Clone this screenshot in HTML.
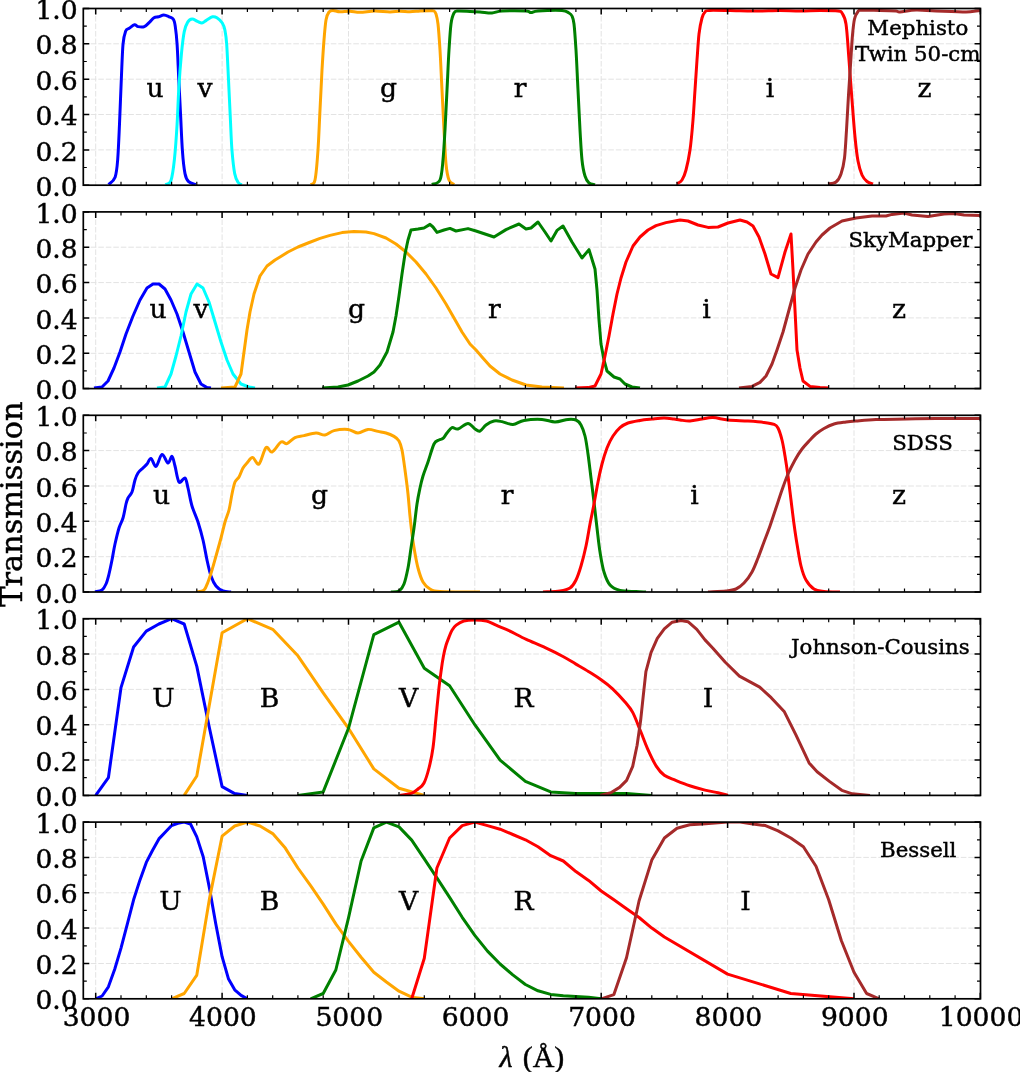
<!DOCTYPE html><html><head><meta charset="utf-8"><title>Filter transmission curves</title><style>html,body{margin:0;padding:0;background:#fff;}svg{display:block;}text{font-family:"DejaVu Serif","Liberation Serif",serif;fill:#000;stroke:#000;stroke-width:0.45px;}</style></head><body>
<svg width="1020" height="1072" viewBox="0 0 1020 1072">
<rect width="1020" height="1072" fill="#fff"/>
<g>
<path d="M95.7 8.5 V185.2 M222.1 8.5 V185.2 M348.5 8.5 V185.2 M474.8 8.5 V185.2 M601.2 8.5 V185.2 M727.6 8.5 V185.2 M854 8.5 V185.2 M83.3 149.9 H980.5 M83.3 114.5 H980.5 M83.3 79.2 H980.5 M83.3 43.8 H980.5" stroke="#e3e3e3" stroke-width="1" stroke-dasharray="5.6 1.9" fill="none"/>
<clipPath id="cp0"><rect x="83.3" y="8.5" width="897.2" height="176.7"/></clipPath>
<g clip-path="url(#cp0)">
<path d="M108.6 184.6 C109.7 183.4 113.6 181.4 115.1 177.2 C116.6 173 117 168.4 117.7 159.5 C118.4 150.6 118.9 137.3 119.5 124 C120.1 110.7 120.7 93 121.3 79.7 C121.9 66.4 122.3 52.4 123 44.3 C123.7 36.2 124.7 33.7 125.7 31 C126.7 28.3 127.7 29.3 129.2 28.3 C130.7 27.3 133 25.1 134.5 24.8 C136 24.5 136.5 26.3 138.1 26.6 C139.7 26.9 142.4 27.4 144.3 26.6 C146.2 25.9 148 23.6 149.6 22.1 C151.2 20.6 152.5 18.6 154 17.7 C155.5 16.8 156.9 17.2 158.5 16.8 C160.1 16.4 162 15.1 163.8 15.1 C165.6 15.1 167.5 16.1 169.1 16.8 C170.7 17.5 172.5 17.9 173.5 19.5 C174.5 21.1 174.7 22.5 175.3 26.6 C175.9 30.7 176.5 35.4 177.1 44.3 C177.7 53.1 178.2 67.9 178.8 79.7 C179.4 91.5 180 103.4 180.6 115.2 C181.2 127 181.7 140.9 182.4 150.6 C183.1 160.3 184 168.4 185 173.6 C186 178.8 186.8 179.8 188.6 181.6 C190.4 183.4 194.5 184.1 195.7 184.6" stroke="#0000ff" stroke-width="3.0" fill="none" stroke-linejoin="round" stroke-linecap="butt"/>
<path d="M165.6 184.6 C166.5 183.9 169.4 184.9 170.9 180.7 C172.4 176.5 173.4 168.9 174.4 159.5 C175.4 150.1 176.4 135.8 177.1 124 C177.8 112.2 178.1 100.4 178.8 88.6 C179.5 76.8 180.6 62.7 181.5 53.2 C182.4 43.8 183.2 37.1 184.2 31.9 C185.2 26.7 186.4 24.2 187.7 22.1 C189 20 190.5 19.2 192.1 19.1 C193.7 19 195.8 20.7 197.4 21.3 C199 21.9 200.4 23.1 201.9 23 C203.4 22.9 204.5 21.4 206.3 20.4 C208.1 19.4 210.7 17.2 212.5 16.8 C214.3 16.4 215.3 16.7 216.9 17.7 C218.5 18.7 221 20.9 222.3 23 C223.6 25.1 224.2 26.6 224.9 30.1 C225.6 33.6 226.1 36 226.7 44.3 C227.3 52.6 227.9 67.9 228.5 79.7 C229.1 91.5 229.6 103.4 230.2 115.2 C230.8 127 231.2 140.9 232 150.6 C232.8 160.3 233.7 168.3 234.7 173.6 C235.7 178.9 237 180.7 238.2 182.5 C239.4 184.3 241.1 184.2 241.7 184.6" stroke="#00ffff" stroke-width="3.0" fill="none" stroke-linejoin="round" stroke-linecap="butt"/>
<path d="M311 184.6 C311.7 183.8 313.8 185.8 315 180 C316.2 174.2 317.2 161.7 318 150 C318.8 138.3 319.3 123.3 320 110 C320.7 96.7 321.3 81.7 322 70 C322.7 58.3 323.3 48.3 324 40 C324.7 31.7 325.2 24.7 326 20 C326.8 15.3 327.8 13.6 329 12 C330.2 10.4 331.2 10.4 333 10.4 C334.8 10.4 337.2 11.7 340 11.8 C342.8 11.9 346.7 11.1 350 11.2 C353.3 11.3 355.8 12.2 360 12.2 C364.2 12.2 370 11 375 11 C380 11 385.8 12 390 12 C394.2 12 396.7 11.2 400 11.2 C403.3 11.2 406.7 11.8 410 11.8 C413.3 11.8 416.7 11.2 420 11 C423.3 10.8 427.7 10.8 430 10.8 C432.3 10.8 433 10.5 434 11 C435 11.5 435.3 11.8 436 14 C436.7 16.2 437.3 18 438 24 C438.7 30 439.3 39 440 50 C440.7 61 441.3 76.7 442 90 C442.7 103.3 443.3 117.7 444 130 C444.7 142.3 445.2 155.7 446 164 C446.8 172.3 447.7 176.6 449 180 C450.3 183.4 453.2 183.8 454 184.6" stroke="#ffa500" stroke-width="3.0" fill="none" stroke-linejoin="round" stroke-linecap="butt"/>
<path d="M432 184.6 C433.3 183.8 438.2 184.1 440 180 C441.8 175.9 442.2 168.3 443 160 C443.8 151.7 444.3 141.7 445 130 C445.7 118.3 446.3 103.3 447 90 C447.7 76.7 448.3 61 449 50 C449.7 39 450.2 30.2 451 24 C451.8 17.8 452.8 15.2 454 13 C455.2 10.8 455.3 11.2 458 11 C460.7 10.8 466.3 11.3 470 11.5 C473.7 11.7 476.3 11.8 480 12 C483.7 12.2 488.3 13.2 492 13 C495.7 12.8 496.3 11.3 502 11 C507.7 10.7 521.2 10.7 526 11 C530.8 11.3 529 12.6 531 12.6 C533 12.6 532.8 11.4 538 11 C543.2 10.6 556.8 10.1 562 10.4 C567.2 10.7 567.3 12.1 569 13 C570.7 13.9 571.2 14.2 572 16 C572.8 17.8 573.3 18.3 574 24 C574.7 29.7 575.3 39 576 50 C576.7 61 577.3 76.7 578 90 C578.7 103.3 579.3 118.3 580 130 C580.7 141.7 581.2 152.3 582 160 C582.8 167.7 583.8 172.2 585 176 C586.2 179.8 587.3 181.6 589 183 C590.7 184.4 594 184.3 595 184.6" stroke="#008000" stroke-width="3.0" fill="none" stroke-linejoin="round" stroke-linecap="butt"/>
<path d="M677 183.8 C677.8 183.2 680.5 182.3 682 180 C683.5 177.7 684.7 175 686 170 C687.3 165 688.8 158.3 690 150 C691.2 141.7 692.2 130 693 120 C693.8 110 694.3 100 695 90 C695.7 80 696.3 69.3 697 60 C697.7 50.7 698.2 41 699 34 C699.8 27 701 21.7 702 18 C703 14.3 703.7 13.3 705 12 C706.3 10.7 704.2 10.6 710 10.4 C715.8 10.2 731.7 10.7 740 10.8 C748.3 10.9 753.3 11.1 760 11 C766.7 10.9 773.3 10.5 780 10.5 C786.7 10.5 793.3 11 800 11 C806.7 11 813.7 10.6 820 10.6 C826.3 10.6 834.3 10.6 838 11 C841.7 11.4 840.7 10.8 842 13 C843.3 15.2 844.8 16.2 846 24 C847.2 31.8 848 47.3 849 60 C850 72.7 851 87.2 852 100 C853 112.8 854 126.8 855 137 C856 147.2 856.8 154.7 858 161 C859.2 167.3 860.5 171.6 862 175 C863.5 178.4 865.2 180 867 181.5 C868.8 183 872 183.6 873 184" stroke="#ff0000" stroke-width="3.0" fill="none" stroke-linejoin="round" stroke-linecap="butt"/>
<path d="M828 184 C829.3 183.7 833.8 183.7 836 182 C838.2 180.3 839.6 178 841 174 C842.4 170 843.6 165.3 844.5 158 C845.4 150.7 845.8 140.5 846.5 130 C847.2 119.5 847.8 105.8 848.5 95 C849.2 84.2 849.8 75 850.5 65 C851.2 55 851.8 42.7 852.5 35 C853.2 27.3 853.6 22.9 854.5 19 C855.4 15.1 856.8 13 858 11.5 C859.2 10 858.3 10.4 862 10.2 C865.7 10 874.3 10.4 880 10.5 C885.7 10.6 892.7 10.8 896 11 C899.3 11.2 896.7 12.2 900 12 C903.3 11.8 910 10.2 916 10 C922 9.8 927.7 10.7 936 11 C944.3 11.3 959.3 12 966 12 C972.7 12 973.6 11.2 976 11 C978.4 10.8 979.8 10.6 980.5 10.5" stroke="#a52a2a" stroke-width="3.0" fill="none" stroke-linejoin="round" stroke-linecap="butt"/>
</g>
<path d="M95.7 8.5 v6 M222.1 8.5 v6 M348.5 8.5 v6 M474.8 8.5 v6 M601.2 8.5 v6 M727.6 8.5 v6 M854 8.5 v6 M980.3 8.5 v6 M83.3 185.2 h6 M980.5 185.2 h-6 M83.3 149.9 h6 M980.5 149.9 h-6 M83.3 114.5 h6 M980.5 114.5 h-6 M83.3 79.2 h6 M980.5 79.2 h-6 M83.3 43.8 h6 M980.5 43.8 h-6 M83.3 8.5 h6 M980.5 8.5 h-6" stroke="#000" stroke-width="1.5" fill="none"/>
<path d="M121 8.5 v3.5 M121 185.2 v-3.5 M146.3 8.5 v3.5 M146.3 185.2 v-3.5 M171.6 8.5 v3.5 M171.6 185.2 v-3.5 M196.8 8.5 v3.5 M196.8 185.2 v-3.5 M247.4 8.5 v3.5 M247.4 185.2 v-3.5 M272.7 8.5 v3.5 M272.7 185.2 v-3.5 M297.9 8.5 v3.5 M297.9 185.2 v-3.5 M323.2 8.5 v3.5 M323.2 185.2 v-3.5 M373.8 8.5 v3.5 M373.8 185.2 v-3.5 M399 8.5 v3.5 M399 185.2 v-3.5 M424.3 8.5 v3.5 M424.3 185.2 v-3.5 M449.6 8.5 v3.5 M449.6 185.2 v-3.5 M500.1 8.5 v3.5 M500.1 185.2 v-3.5 M525.4 8.5 v3.5 M525.4 185.2 v-3.5 M550.7 8.5 v3.5 M550.7 185.2 v-3.5 M575.9 8.5 v3.5 M575.9 185.2 v-3.5 M626.5 8.5 v3.5 M626.5 185.2 v-3.5 M651.8 8.5 v3.5 M651.8 185.2 v-3.5 M677 8.5 v3.5 M677 185.2 v-3.5 M702.3 8.5 v3.5 M702.3 185.2 v-3.5 M752.9 8.5 v3.5 M752.9 185.2 v-3.5 M778.1 8.5 v3.5 M778.1 185.2 v-3.5 M803.4 8.5 v3.5 M803.4 185.2 v-3.5 M828.7 8.5 v3.5 M828.7 185.2 v-3.5 M879.2 8.5 v3.5 M879.2 185.2 v-3.5 M904.5 8.5 v3.5 M904.5 185.2 v-3.5 M929.8 8.5 v3.5 M929.8 185.2 v-3.5 M955.1 8.5 v3.5 M955.1 185.2 v-3.5 M83.3 167.5 h3.5 M980.5 167.5 h-3.5 M83.3 132.2 h3.5 M980.5 132.2 h-3.5 M83.3 96.8 h3.5 M980.5 96.8 h-3.5 M83.3 61.5 h3.5 M980.5 61.5 h-3.5 M83.3 26.2 h3.5 M980.5 26.2 h-3.5" stroke="#000" stroke-width="1.2" fill="none"/>
<rect x="83.3" y="8.5" width="897.2" height="176.7" fill="none" stroke="#000" stroke-width="1.7"/>
<text x="77.7" y="195.8" font-size="26.6" text-anchor="end">0.0</text>
<text x="77.7" y="160.5" font-size="26.6" text-anchor="end">0.2</text>
<text x="77.7" y="125.1" font-size="26.6" text-anchor="end">0.4</text>
<text x="77.7" y="89.8" font-size="26.6" text-anchor="end">0.6</text>
<text x="77.7" y="54.4" font-size="26.6" text-anchor="end">0.8</text>
<text x="77.7" y="19.1" font-size="26.6" text-anchor="end">1.0</text>
<text x="155" y="96.8" font-size="26.6" text-anchor="middle">u</text>
<text x="205" y="96.8" font-size="26.6" text-anchor="middle">v</text>
<text x="388.5" y="96.8" font-size="26.6" text-anchor="middle">g</text>
<text x="520" y="96.8" font-size="26.6" text-anchor="middle">r</text>
<text x="770" y="96.8" font-size="26.6" text-anchor="middle">i</text>
<text x="924.5" y="96.8" font-size="26.6" text-anchor="middle">z</text>
<text x="917.8" y="35" font-size="21.3" text-anchor="middle">Mephisto</text>
<text x="917.8" y="61" font-size="21.3" text-anchor="middle">Twin 50-cm</text>
</g>
<g>
<path d="M95.7 211.9 V388.6 M222.1 211.9 V388.6 M348.5 211.9 V388.6 M474.8 211.9 V388.6 M601.2 211.9 V388.6 M727.6 211.9 V388.6 M854 211.9 V388.6 M83.3 353.3 H980.5 M83.3 317.9 H980.5 M83.3 282.6 H980.5 M83.3 247.2 H980.5" stroke="#e3e3e3" stroke-width="1" stroke-dasharray="5.6 1.9" fill="none"/>
<clipPath id="cp1"><rect x="83.3" y="211.9" width="897.2" height="176.7"/></clipPath>
<g clip-path="url(#cp1)">
<path d="M94 388 L102 387 L108 381 L114 368 L120 352 L126 334 L133 316 L140 300 L147 288 L153 284 L159 284 L165 289 L171 300 L177 314 L183 332 L189 352 L195 372 L201 384 L207 387.6 L211 388" stroke="#0000ff" stroke-width="3.0" fill="none" stroke-linejoin="round" stroke-linecap="butt"/>
<path d="M157 388 L165 387 L171 374 L176 356 L181 336 L186 312 L191 294 L197 284 L203 288 L209 302 L215 322 L221 342 L227 360 L233 374 L241 384 L249 387 L255 388" stroke="#00ffff" stroke-width="3.0" fill="none" stroke-linejoin="round" stroke-linecap="butt"/>
<path d="M221 388 L235 387 L241 374 L244 352 L247 330 L250 312 L254 294 L260 276 L267 266 L275 260 L280 257 L288 252 L298 247 L308 243 L320 238.4 L330 235.4 L342 232.6 L354 231.6 L366 232 L374 233.6 L386 238 L396 244 L406 252 L416 262 L426 274 L436 288 L446 304 L454 318 L462 332 L470 344 L476 350 L482 357 L490 366 L500 374 L512 380 L526 385 L542 387 L564 388" stroke="#ffa500" stroke-width="3.0" fill="none" stroke-linejoin="round" stroke-linecap="butt"/>
<path d="M322 388 L338 387 L348 385 L358 381 L368 376 L374 372 L380 365 L387 352 L393 332 L396 316 L399 296 L402 274 L405 254 L408 240 L411 230 L418 229 L424 228 L430 224.4 L433 227 L437 232.4 L444 230 L450 228.4 L456 231 L468 228.6 L476 231 L485 234 L494 237 L506 229.6 L519 224 L526 229 L531 228 L538 222 L545 232 L551 241 L557 230.4 L563 226 L572 242 L582 258 L589 249.6 L595 269 L597 290 L599 320 L601 344 L604 360 L607 371 L614 377 L620 379 L625 384 L632 387 L640 388" stroke="#008000" stroke-width="3.0" fill="none" stroke-linejoin="round" stroke-linecap="butt"/>
<path d="M575 388 L588 387.6 L595 386 L601 374 L605 356 L609 336 L613 314 L617 294 L621 278 L626 262 L633 246 L640 237 L648 230 L656 225.6 L666 222.6 L680 220 L688 221 L698 225 L708 227.4 L718 227 L728 223 L740 220 L747 222 L753 226 L759 237 L765 254 L771 274 L778 277.6 L785 252 L791 234 L793 270 L795 310 L797 350 L800 368 L803 381 L810 386.4 L820 387.6 L829 388" stroke="#ff0000" stroke-width="3.0" fill="none" stroke-linejoin="round" stroke-linecap="butt"/>
<path d="M739 388 L752 386.4 L760 382.4 L766 376 L772 364 L777 350 L783 332 L789 310 L795 288 L801 270 L808 254 L816 242 L822 235 L830 228 L842 221 L856 218 L872 216 L886 216 L892 214.4 L904 213 L912 215 L928 216.4 L944 214 L954 213.6 L964 215 L980.5 215.6" stroke="#a52a2a" stroke-width="3.0" fill="none" stroke-linejoin="round" stroke-linecap="butt"/>
</g>
<path d="M95.7 211.9 v6 M222.1 211.9 v6 M348.5 211.9 v6 M474.8 211.9 v6 M601.2 211.9 v6 M727.6 211.9 v6 M854 211.9 v6 M980.3 211.9 v6 M83.3 388.6 h6 M980.5 388.6 h-6 M83.3 353.3 h6 M980.5 353.3 h-6 M83.3 317.9 h6 M980.5 317.9 h-6 M83.3 282.6 h6 M980.5 282.6 h-6 M83.3 247.2 h6 M980.5 247.2 h-6 M83.3 211.9 h6 M980.5 211.9 h-6" stroke="#000" stroke-width="1.5" fill="none"/>
<path d="M121 211.9 v3.5 M121 388.6 v-3.5 M146.3 211.9 v3.5 M146.3 388.6 v-3.5 M171.6 211.9 v3.5 M171.6 388.6 v-3.5 M196.8 211.9 v3.5 M196.8 388.6 v-3.5 M247.4 211.9 v3.5 M247.4 388.6 v-3.5 M272.7 211.9 v3.5 M272.7 388.6 v-3.5 M297.9 211.9 v3.5 M297.9 388.6 v-3.5 M323.2 211.9 v3.5 M323.2 388.6 v-3.5 M373.8 211.9 v3.5 M373.8 388.6 v-3.5 M399 211.9 v3.5 M399 388.6 v-3.5 M424.3 211.9 v3.5 M424.3 388.6 v-3.5 M449.6 211.9 v3.5 M449.6 388.6 v-3.5 M500.1 211.9 v3.5 M500.1 388.6 v-3.5 M525.4 211.9 v3.5 M525.4 388.6 v-3.5 M550.7 211.9 v3.5 M550.7 388.6 v-3.5 M575.9 211.9 v3.5 M575.9 388.6 v-3.5 M626.5 211.9 v3.5 M626.5 388.6 v-3.5 M651.8 211.9 v3.5 M651.8 388.6 v-3.5 M677 211.9 v3.5 M677 388.6 v-3.5 M702.3 211.9 v3.5 M702.3 388.6 v-3.5 M752.9 211.9 v3.5 M752.9 388.6 v-3.5 M778.1 211.9 v3.5 M778.1 388.6 v-3.5 M803.4 211.9 v3.5 M803.4 388.6 v-3.5 M828.7 211.9 v3.5 M828.7 388.6 v-3.5 M879.2 211.9 v3.5 M879.2 388.6 v-3.5 M904.5 211.9 v3.5 M904.5 388.6 v-3.5 M929.8 211.9 v3.5 M929.8 388.6 v-3.5 M955.1 211.9 v3.5 M955.1 388.6 v-3.5 M83.3 370.9 h3.5 M980.5 370.9 h-3.5 M83.3 335.6 h3.5 M980.5 335.6 h-3.5 M83.3 300.2 h3.5 M980.5 300.2 h-3.5 M83.3 264.9 h3.5 M980.5 264.9 h-3.5 M83.3 229.6 h3.5 M980.5 229.6 h-3.5" stroke="#000" stroke-width="1.2" fill="none"/>
<rect x="83.3" y="211.9" width="897.2" height="176.7" fill="none" stroke="#000" stroke-width="1.7"/>
<text x="77.7" y="399.2" font-size="26.6" text-anchor="end">0.0</text>
<text x="77.7" y="363.9" font-size="26.6" text-anchor="end">0.2</text>
<text x="77.7" y="328.5" font-size="26.6" text-anchor="end">0.4</text>
<text x="77.7" y="293.2" font-size="26.6" text-anchor="end">0.6</text>
<text x="77.7" y="257.8" font-size="26.6" text-anchor="end">0.8</text>
<text x="77.7" y="222.5" font-size="26.6" text-anchor="end">1.0</text>
<text x="158" y="317.9" font-size="26.6" text-anchor="middle">u</text>
<text x="201" y="317.9" font-size="26.6" text-anchor="middle">v</text>
<text x="356.5" y="317.9" font-size="26.6" text-anchor="middle">g</text>
<text x="494.4" y="317.9" font-size="26.6" text-anchor="middle">r</text>
<text x="706.5" y="317.9" font-size="26.6" text-anchor="middle">i</text>
<text x="899" y="317.9" font-size="26.6" text-anchor="middle">z</text>
<text x="910.5" y="247.4" font-size="21.3" text-anchor="middle">SkyMapper</text>
</g>
<g>
<path d="M95.7 415.3 V592 M222.1 415.3 V592 M348.5 415.3 V592 M474.8 415.3 V592 M601.2 415.3 V592 M727.6 415.3 V592 M854 415.3 V592 M83.3 556.7 H980.5 M83.3 521.3 H980.5 M83.3 486 H980.5 M83.3 450.6 H980.5" stroke="#e3e3e3" stroke-width="1" stroke-dasharray="5.6 1.9" fill="none"/>
<clipPath id="cp2"><rect x="83.3" y="415.3" width="897.2" height="176.7"/></clipPath>
<g clip-path="url(#cp2)">
<path d="M95 591.6 C96.2 591.3 100.2 591.3 102 590 C103.8 588.7 104.8 586.7 106 584 C107.2 581.3 108 578 109 574 C110 570 111 565 112 560 C113 555 113.8 549.3 115 544 C116.2 538.7 117.7 532.3 119 528 C120.3 523.7 121.8 522 123 518 C124.2 514 125.2 507.3 126 504 C126.8 500.7 127 500 128 498 C129 496 130.8 495 132 492 C133.2 489 134 483.2 135 480 C136 476.8 136.7 475 138 473 C139.3 471 141.5 469.5 143 468 C144.5 466.5 145.7 465.6 147 464 C148.3 462.4 149.5 458 151 458.4 C152.5 458.8 154.2 467.1 156 466.4 C157.8 465.7 160 455 162 454.4 C164 453.8 166.3 462.7 168 463 C169.7 463.3 170.8 455.9 172 456.4 C173.2 456.9 173.8 461.7 175 466 C176.2 470.3 177.3 480 179 482 C180.7 484 183.5 477 185 478 C186.5 479 186.8 483.3 188 488 C189.2 492.7 190.3 500.3 192 506 C193.7 511.7 196.2 516.3 198 522 C199.8 527.7 201.5 533.7 203 540 C204.5 546.3 205.7 554 207 560 C208.3 566 209.5 571.7 211 576 C212.5 580.3 214 583.5 216 586 C218 588.5 220.5 590 223 591 C225.5 592 229.7 591.8 231 592" stroke="#0000ff" stroke-width="3.0" fill="none" stroke-linejoin="round" stroke-linecap="butt"/>
<path d="M197 592 C198.2 591.7 202.2 591.7 204 590 C205.8 588.3 206.7 585.3 208 582 C209.3 578.7 210.7 574.3 212 570 C213.3 565.7 214.5 561.3 216 556 C217.5 550.7 219.5 543.7 221 538 C222.5 532.3 223.7 526.7 225 522 C226.3 517.3 227.8 514.7 229 510 C230.2 505.3 231 498.7 232 494 C233 489.3 233.8 484.8 235 482 C236.2 479.2 237.7 479.3 239 477 C240.3 474.7 241.7 470.3 243 468 C244.3 465.7 245.4 464.7 247 463 C248.6 461.3 250.6 457.4 252.6 457.6 C254.6 457.8 256.8 465.7 259 464 C261.2 462.3 263.8 449.6 266 447.6 C268.2 445.6 269.5 452.9 272 452 C274.5 451.1 278.5 443.4 281 442 C283.5 440.6 284.7 444.3 287 443.6 C289.3 442.9 292.2 438.9 295 437.6 C297.8 436.3 300.5 436.4 304 435.6 C307.5 434.8 312.5 433.1 316 433 C319.5 432.9 322 435.4 325 435 C328 434.6 330.2 431.5 334 430.6 C337.8 429.7 344 429 348 429.4 C352 429.8 354.7 433 358 433 C361.3 433 364.7 429.7 368 429.4 C371.3 429.1 375 430.8 378 431.4 C381 432 383.3 432.2 386 433 C388.7 433.8 391.8 435.1 394 436.4 C396.2 437.7 397.7 438.7 399 441 C400.3 443.3 401 445.2 402 450 C403 454.8 404 462.7 405 470 C406 477.3 407.2 486.3 408 494 C408.8 501.7 409.3 509.3 410 516 C410.7 522.7 411.3 528.3 412 534 C412.7 539.7 413.4 544.3 414.4 550 C415.4 555.7 416.6 562.7 418 568 C419.4 573.3 421 578.5 423 582 C425 585.5 427.2 587.4 430 589 C432.8 590.6 431.7 590.9 440 591.4 C448.3 591.9 473.3 591.9 480 592" stroke="#ffa500" stroke-width="3.0" fill="none" stroke-linejoin="round" stroke-linecap="butt"/>
<path d="M391 592 C392.3 591.8 396.8 592.3 399 591 C401.2 589.7 402.5 587.8 404 584 C405.5 580.2 406.8 574 408 568 C409.2 562 410 554.7 411 548 C412 541.3 413 535.3 414 528 C415 520.7 416 510.7 417 504 C418 497.3 419 492.7 420 488 C421 483.3 421.7 480.3 423 476 C424.3 471.7 426.2 467.3 428 462 C429.8 456.7 432.2 447.7 434 444 C435.8 440.3 437.5 440.9 439 440 C440.5 439.1 441.7 439.6 443 438.4 C444.3 437.2 445.5 434.8 447 433 C448.5 431.2 450.2 428.3 452 427.6 C453.8 426.9 455.3 429.7 458 429 C460.7 428.3 465.2 423.4 468 423.4 C470.8 423.4 473 427.7 475 429 C477 430.3 478.2 431.7 480 431 C481.8 430.3 483.7 426.7 486 425 C488.3 423.3 491.3 421.6 494 421 C496.7 420.4 498.8 421 502 421.6 C505.2 422.2 509.3 424.6 513 424.4 C516.7 424.2 519.2 421.2 524 420.4 C528.8 419.6 536.8 419.1 542 419.4 C547.2 419.7 550.7 422 555 422 C559.3 422 564.5 419.7 568 419.4 C571.5 419.1 573.8 419.1 576 420 C578.2 420.9 579.5 422.3 581 425 C582.5 427.7 583.8 431.2 585 436 C586.2 440.8 587 447 588 454 C589 461 590 470 591 478 C592 486 593 493.7 594 502 C595 510.3 596 519.7 597 528 C598 536.3 598.8 544.7 600 552 C601.2 559.3 602.3 566.5 604 572 C605.7 577.5 607.3 581.9 610 585 C612.7 588.1 615.7 589.3 620 590.4 C624.3 591.5 631.7 591.3 636 591.6 C640.3 591.9 644.3 591.9 646 592" stroke="#008000" stroke-width="3.0" fill="none" stroke-linejoin="round" stroke-linecap="butt"/>
<path d="M543 592 C545.8 591.8 555.5 591.7 560 591 C564.5 590.3 567.3 589.8 570 588 C572.7 586.2 574.2 583.7 576 580 C577.8 576.3 579.3 571.7 581 566 C582.7 560.3 584.5 553 586 546 C587.5 539 588.7 531 590 524 C591.3 517 592.7 511 594 504 C595.3 497 596.7 488.7 598 482 C599.3 475.3 600.5 469.7 602 464 C603.5 458.3 605.2 452.7 607 448 C608.8 443.3 610.8 439.4 613 436 C615.2 432.6 617.5 429.8 620 427.6 C622.5 425.4 624.7 424.2 628 423 C631.3 421.8 636 421.1 640 420.4 C644 419.7 648 419.4 652 419 C656 418.6 660.3 418 664 418 C667.7 418 671.3 418.7 674 419 C676.7 419.3 677.3 419.7 680 420 C682.7 420.3 686.3 421.2 690 421 C693.7 420.8 698.2 419.6 702 419 C705.8 418.4 708.7 417.4 713 417.6 C717.3 417.8 722.2 419.4 728 420 C733.8 420.6 742 420.6 748 421 C754 421.4 759.7 421.8 764 422.4 C768.3 423 771.7 423.5 774 424.4 C776.3 425.3 776.7 425.4 778 428 C779.3 430.6 780.8 435.3 782 440 C783.2 444.7 784 450 785 456 C786 462 787 468.7 788 476 C789 483.3 790 492 791 500 C792 508 793 516.7 794 524 C795 531.3 795.8 537 797 544 C798.2 551 799.5 560 801 566 C802.5 572 803.8 576.2 806 580 C808.2 583.8 811 587.1 814 589 C817 590.9 819.7 590.9 824 591.4 C828.3 591.9 837.3 591.9 840 592" stroke="#ff0000" stroke-width="3.0" fill="none" stroke-linejoin="round" stroke-linecap="butt"/>
<path d="M708 592 C711 591.8 721.3 591.5 726 591 C730.7 590.5 733 590.3 736 589 C739 587.7 741.3 585.8 744 583 C746.7 580.2 749.7 576.2 752 572 C754.3 567.8 756 563 758 558 C760 553 762 547.3 764 542 C766 536.7 768 531.7 770 526 C772 520.3 774 514 776 508 C778 502 780 495.7 782 490 C784 484.3 785.8 479 788 474 C790.2 469 792.7 464.2 795 460 C797.3 455.8 799.5 452.3 802 449 C804.5 445.7 807.7 442.5 810 440 C812.3 437.5 813.7 435.9 816 434 C818.3 432.1 821 430.2 824 428.5 C827 426.8 830.3 425.1 834 424 C837.7 422.9 842.3 422.5 846 422 C849.7 421.5 851 421.4 856 421 C861 420.6 867.7 419.9 876 419.6 C884.3 419.3 896 419.2 906 419 C916 418.8 923.6 418.7 936 418.6 C948.4 418.5 973.1 418.4 980.5 418.4" stroke="#a52a2a" stroke-width="3.0" fill="none" stroke-linejoin="round" stroke-linecap="butt"/>
</g>
<path d="M95.7 415.3 v6 M222.1 415.3 v6 M348.5 415.3 v6 M474.8 415.3 v6 M601.2 415.3 v6 M727.6 415.3 v6 M854 415.3 v6 M980.3 415.3 v6 M83.3 592 h6 M980.5 592 h-6 M83.3 556.7 h6 M980.5 556.7 h-6 M83.3 521.3 h6 M980.5 521.3 h-6 M83.3 486 h6 M980.5 486 h-6 M83.3 450.6 h6 M980.5 450.6 h-6 M83.3 415.3 h6 M980.5 415.3 h-6" stroke="#000" stroke-width="1.5" fill="none"/>
<path d="M121 415.3 v3.5 M121 592 v-3.5 M146.3 415.3 v3.5 M146.3 592 v-3.5 M171.6 415.3 v3.5 M171.6 592 v-3.5 M196.8 415.3 v3.5 M196.8 592 v-3.5 M247.4 415.3 v3.5 M247.4 592 v-3.5 M272.7 415.3 v3.5 M272.7 592 v-3.5 M297.9 415.3 v3.5 M297.9 592 v-3.5 M323.2 415.3 v3.5 M323.2 592 v-3.5 M373.8 415.3 v3.5 M373.8 592 v-3.5 M399 415.3 v3.5 M399 592 v-3.5 M424.3 415.3 v3.5 M424.3 592 v-3.5 M449.6 415.3 v3.5 M449.6 592 v-3.5 M500.1 415.3 v3.5 M500.1 592 v-3.5 M525.4 415.3 v3.5 M525.4 592 v-3.5 M550.7 415.3 v3.5 M550.7 592 v-3.5 M575.9 415.3 v3.5 M575.9 592 v-3.5 M626.5 415.3 v3.5 M626.5 592 v-3.5 M651.8 415.3 v3.5 M651.8 592 v-3.5 M677 415.3 v3.5 M677 592 v-3.5 M702.3 415.3 v3.5 M702.3 592 v-3.5 M752.9 415.3 v3.5 M752.9 592 v-3.5 M778.1 415.3 v3.5 M778.1 592 v-3.5 M803.4 415.3 v3.5 M803.4 592 v-3.5 M828.7 415.3 v3.5 M828.7 592 v-3.5 M879.2 415.3 v3.5 M879.2 592 v-3.5 M904.5 415.3 v3.5 M904.5 592 v-3.5 M929.8 415.3 v3.5 M929.8 592 v-3.5 M955.1 415.3 v3.5 M955.1 592 v-3.5 M83.3 574.3 h3.5 M980.5 574.3 h-3.5 M83.3 539 h3.5 M980.5 539 h-3.5 M83.3 503.6 h3.5 M980.5 503.6 h-3.5 M83.3 468.3 h3.5 M980.5 468.3 h-3.5 M83.3 433 h3.5 M980.5 433 h-3.5" stroke="#000" stroke-width="1.2" fill="none"/>
<rect x="83.3" y="415.3" width="897.2" height="176.7" fill="none" stroke="#000" stroke-width="1.7"/>
<text x="77.7" y="602.6" font-size="26.6" text-anchor="end">0.0</text>
<text x="77.7" y="567.3" font-size="26.6" text-anchor="end">0.2</text>
<text x="77.7" y="531.9" font-size="26.6" text-anchor="end">0.4</text>
<text x="77.7" y="496.6" font-size="26.6" text-anchor="end">0.6</text>
<text x="77.7" y="461.2" font-size="26.6" text-anchor="end">0.8</text>
<text x="77.7" y="425.9" font-size="26.6" text-anchor="end">1.0</text>
<text x="161.5" y="503.6" font-size="26.6" text-anchor="middle">u</text>
<text x="319.5" y="503.6" font-size="26.6" text-anchor="middle">g</text>
<text x="507" y="503.6" font-size="26.6" text-anchor="middle">r</text>
<text x="694.5" y="503.6" font-size="26.6" text-anchor="middle">i</text>
<text x="899" y="503.6" font-size="26.6" text-anchor="middle">z</text>
<text x="922.5" y="450.4" font-size="21.3" text-anchor="middle">SDSS</text>
</g>
<g>
<path d="M95.7 618.7 V795.4 M222.1 618.7 V795.4 M348.5 618.7 V795.4 M474.8 618.7 V795.4 M601.2 618.7 V795.4 M727.6 618.7 V795.4 M854 618.7 V795.4 M83.3 760.1 H980.5 M83.3 724.7 H980.5 M83.3 689.4 H980.5 M83.3 654 H980.5" stroke="#e3e3e3" stroke-width="1" stroke-dasharray="5.6 1.9" fill="none"/>
<clipPath id="cp3"><rect x="83.3" y="618.7" width="897.2" height="176.7"/></clipPath>
<g clip-path="url(#cp3)">
<path d="M95.7 795.4 L108.4 777.7 L121 687.6 L133.6 647 L146.3 631.1 L158.9 624 L171.6 618.7 L184.2 624 L196.8 666.4 L209.5 728.3 L222.1 786.6 L234.7 793.6 L247.4 795.4" stroke="#0000ff" stroke-width="3.0" fill="none" stroke-linejoin="round" stroke-linecap="butt"/>
<path d="M184.2 795.4 L196.8 776 L222.1 632.8 L247.4 618.7 L272.7 629.3 L297.9 655.8 L323.2 692.9 L348.5 728.3 L373.8 768.9 L399 788.3 L424.3 795.4" stroke="#ffa500" stroke-width="3.0" fill="none" stroke-linejoin="round" stroke-linecap="butt"/>
<path d="M297.9 795.4 L323.2 791.9 L348.5 728.3 L373.8 634.6 L399 622.2 L424.3 668.2 L449.6 685.8 L474.8 724.7 L500.1 760.1 L525.4 781.3 L550.7 791.9 L575.9 793.6 L601.2 793.6 L626.5 793.6 L651.8 795.4" stroke="#008000" stroke-width="3.0" fill="none" stroke-linejoin="round" stroke-linecap="butt"/>
<path d="M400 795.4 C402 795 409 794.2 412 793.1 C415 792 416 790.7 418 789 C420 787.4 422.2 786.5 424 783 C425.8 779.5 427.5 773.9 429 768 C430.5 762.1 431.8 756.1 433 747.7 C434.2 739.3 435 727.7 436 717.7 C437 707.6 438.1 695.9 439 687.6 C439.9 679.4 440.8 673.5 441.5 668.2 C442.2 662.9 442.8 659.6 443.5 655.8 C444.2 652 445.1 648.2 446 645.2 C446.9 642.3 447.6 640.6 448.6 638.1 C449.6 635.6 450.7 632.3 452 630.2 C453.3 628 454.2 626.8 456.2 625.2 C458.1 623.7 460.6 621.9 463.7 621 C466.8 620.1 470.7 619.9 474.5 619.9 C478.3 619.9 482.8 620.1 486.4 621 C490 621.9 492.3 623.6 496.1 625.2 C499.9 626.9 504 628.4 509 630.7 C514 633.1 520.2 636.5 526.3 639.4 C532.4 642.2 539.6 645 545.7 647.9 C551.8 650.7 558 653.8 563 656.5 C568 659.2 571.6 661.6 575.9 664.1 C580.2 666.6 584.5 669 588.8 671.7 C593.1 674.4 597.8 677.3 601.8 680.2 C605.8 683 608.8 685.3 612.6 688.8 C616.4 692.4 621.4 697.8 624.8 701.7 C628.1 705.7 630.1 707.4 632.7 712.4 C635.3 717.3 638.1 725.2 640.6 731.3 C643.1 737.3 645 742.9 647.6 748.8 C650.2 754.6 653.6 762 656.4 766.4 C659.2 770.8 661.1 772.9 664.3 775.3 C667.5 777.6 671.5 778.6 675.7 780.4 C679.9 782.1 684.8 784.1 689.7 785.7 C694.6 787.3 700.3 788.9 705 790.1 C709.7 791.3 714.2 791.9 718 792.7 C721.8 793.6 726.3 795 728 795.4" stroke="#ff0000" stroke-width="3.0" fill="none" stroke-linejoin="round" stroke-linecap="butt"/>
<path d="M600.3 795.4 L610.8 792.7 L619.6 787.4 L626.6 780.4 L632.7 766.4 L637.1 745.2 L640.6 720.8 L643.2 696.3 L645.9 671.7 L651.1 652.4 L657.3 638.3 L664.3 628.8 L672.2 622.2 L681 620.5 L688 621.7 L696.8 629.3 L705 639.9 L712.9 648.2 L725.3 662.3 L739.4 676.1 L748.2 680.9 L759.7 687.1 L771.2 697.7 L784.4 711.8 L795.9 734.8 L809.1 762.9 L817.1 771.7 L829.4 781.4 L841.8 790.3 L852.3 793.8 L870 795.4" stroke="#a52a2a" stroke-width="3.0" fill="none" stroke-linejoin="round" stroke-linecap="butt"/>
</g>
<path d="M95.7 618.7 v6 M222.1 618.7 v6 M348.5 618.7 v6 M474.8 618.7 v6 M601.2 618.7 v6 M727.6 618.7 v6 M854 618.7 v6 M980.3 618.7 v6 M83.3 795.4 h6 M980.5 795.4 h-6 M83.3 760.1 h6 M980.5 760.1 h-6 M83.3 724.7 h6 M980.5 724.7 h-6 M83.3 689.4 h6 M980.5 689.4 h-6 M83.3 654 h6 M980.5 654 h-6 M83.3 618.7 h6 M980.5 618.7 h-6" stroke="#000" stroke-width="1.5" fill="none"/>
<path d="M121 618.7 v3.5 M121 795.4 v-3.5 M146.3 618.7 v3.5 M146.3 795.4 v-3.5 M171.6 618.7 v3.5 M171.6 795.4 v-3.5 M196.8 618.7 v3.5 M196.8 795.4 v-3.5 M247.4 618.7 v3.5 M247.4 795.4 v-3.5 M272.7 618.7 v3.5 M272.7 795.4 v-3.5 M297.9 618.7 v3.5 M297.9 795.4 v-3.5 M323.2 618.7 v3.5 M323.2 795.4 v-3.5 M373.8 618.7 v3.5 M373.8 795.4 v-3.5 M399 618.7 v3.5 M399 795.4 v-3.5 M424.3 618.7 v3.5 M424.3 795.4 v-3.5 M449.6 618.7 v3.5 M449.6 795.4 v-3.5 M500.1 618.7 v3.5 M500.1 795.4 v-3.5 M525.4 618.7 v3.5 M525.4 795.4 v-3.5 M550.7 618.7 v3.5 M550.7 795.4 v-3.5 M575.9 618.7 v3.5 M575.9 795.4 v-3.5 M626.5 618.7 v3.5 M626.5 795.4 v-3.5 M651.8 618.7 v3.5 M651.8 795.4 v-3.5 M677 618.7 v3.5 M677 795.4 v-3.5 M702.3 618.7 v3.5 M702.3 795.4 v-3.5 M752.9 618.7 v3.5 M752.9 795.4 v-3.5 M778.1 618.7 v3.5 M778.1 795.4 v-3.5 M803.4 618.7 v3.5 M803.4 795.4 v-3.5 M828.7 618.7 v3.5 M828.7 795.4 v-3.5 M879.2 618.7 v3.5 M879.2 795.4 v-3.5 M904.5 618.7 v3.5 M904.5 795.4 v-3.5 M929.8 618.7 v3.5 M929.8 795.4 v-3.5 M955.1 618.7 v3.5 M955.1 795.4 v-3.5 M83.3 777.7 h3.5 M980.5 777.7 h-3.5 M83.3 742.4 h3.5 M980.5 742.4 h-3.5 M83.3 707.1 h3.5 M980.5 707.1 h-3.5 M83.3 671.7 h3.5 M980.5 671.7 h-3.5 M83.3 636.4 h3.5 M980.5 636.4 h-3.5" stroke="#000" stroke-width="1.2" fill="none"/>
<rect x="83.3" y="618.7" width="897.2" height="176.7" fill="none" stroke="#000" stroke-width="1.7"/>
<text x="77.7" y="806" font-size="26.6" text-anchor="end">0.0</text>
<text x="77.7" y="770.7" font-size="26.6" text-anchor="end">0.2</text>
<text x="77.7" y="735.3" font-size="26.6" text-anchor="end">0.4</text>
<text x="77.7" y="700" font-size="26.6" text-anchor="end">0.6</text>
<text x="77.7" y="664.6" font-size="26.6" text-anchor="end">0.8</text>
<text x="77.7" y="629.3" font-size="26.6" text-anchor="end">1.0</text>
<text x="163.5" y="707.1" font-size="26.6" text-anchor="middle">U</text>
<text x="269.5" y="707.1" font-size="26.6" text-anchor="middle">B</text>
<text x="408.7" y="707.1" font-size="26.6" text-anchor="middle">V</text>
<text x="523.5" y="707.1" font-size="26.6" text-anchor="middle">R</text>
<text x="708" y="707.1" font-size="26.6" text-anchor="middle">I</text>
<text x="880.4" y="654.2" font-size="21.3" text-anchor="middle">Johnson-Cousins</text>
</g>
<g>
<path d="M95.7 822.1 V998.8 M222.1 822.1 V998.8 M348.5 822.1 V998.8 M474.8 822.1 V998.8 M601.2 822.1 V998.8 M727.6 822.1 V998.8 M854 822.1 V998.8 M83.3 963.5 H980.5 M83.3 928.1 H980.5 M83.3 892.8 H980.5 M83.3 857.4 H980.5" stroke="#e3e3e3" stroke-width="1" stroke-dasharray="5.6 1.9" fill="none"/>
<clipPath id="cp4"><rect x="83.3" y="822.1" width="897.2" height="176.7"/></clipPath>
<g clip-path="url(#cp4)">
<path d="M95.7 998.8 L102.1 996 L108.4 986.8 L114.7 969.3 L121 948.1 L127.3 924.1 L133.6 899.8 L140 879.9 L146.3 862.4 L152.6 850.2 L158.9 838.9 L165.2 832.2 L171.6 825.5 L177.9 823.3 L184.2 822.1 L190.5 824 L196.8 836.9 L203.2 856.7 L209.5 888.4 L215.8 924.1 L222.1 956.7 L228.4 978.7 L234.7 989.8 L241.1 995.4 L247.4 998.8" stroke="#0000ff" stroke-width="3.0" fill="none" stroke-linejoin="round" stroke-linecap="butt"/>
<path d="M171.6 998.8 L184.2 993.5 L196.8 975.1 L209.5 898.6 L222.1 836.2 L234.7 826 L247.4 822.1 L260 826 L272.7 833.6 L285.3 848.1 L297.9 868 L310.6 885.7 L323.2 904.1 L335.8 923.9 L348.5 941.4 L361.1 957.3 L373.8 972.3 L386.4 982 L399 991.2 L411.7 997.2 L424.3 998.8" stroke="#ffa500" stroke-width="3.0" fill="none" stroke-linejoin="round" stroke-linecap="butt"/>
<path d="M310.6 998.8 L323.2 993.5 L335.8 970 L348.5 917.9 L361.1 861 L373.8 827.9 L386.4 822.1 L399 826.9 L411.7 840.1 L424.3 858.9 L436.9 877.9 L449.6 897.4 L462.2 917.3 L474.8 935.4 L487.5 951.1 L500.1 964 L512.8 974.9 L525.4 984.5 L538 990.8 L550.7 994.4 L563.3 995.8 L575.9 996.5 L588.6 997.2 L601.2 998.8" stroke="#008000" stroke-width="3.0" fill="none" stroke-linejoin="round" stroke-linecap="butt"/>
<path d="M411.7 998.8 L424.3 958.2 L436.9 868 L449.6 838 L462.2 825.6 L474.8 822.1 L487.5 825.6 L500.1 829.2 L512.8 834.5 L525.4 839.8 L538 846.8 L550.7 855.7 L563.3 861 L575.9 871.6 L588.6 880.4 L601.2 891 L613.9 899.8 L626.5 908.7 L639.1 917.5 L651.8 928.1 L664.4 937 L727.6 974.1 L790.8 993.5 L854 998.8" stroke="#ff0000" stroke-width="3.0" fill="none" stroke-linejoin="round" stroke-linecap="butt"/>
<path d="M601.2 998.8 L613.9 994.6 L626.5 957.8 L639.1 900.7 L651.8 860.1 L664.4 838 L677 828.3 L689.7 824.8 L702.3 823.9 L715 823 L727.6 822.1 L740.2 822.1 L752.9 823.9 L765.5 825.6 L778.1 830.9 L790.8 838 L803.4 846.8 L816 866.3 L828.7 899.8 L841.3 940.5 L854 972.3 L866.6 993.5 L879.2 998.8" stroke="#a52a2a" stroke-width="3.0" fill="none" stroke-linejoin="round" stroke-linecap="butt"/>
</g>
<path d="M95.7 822.1 v6 M95.7 998.8 v-6 M222.1 822.1 v6 M222.1 998.8 v-6 M348.5 822.1 v6 M348.5 998.8 v-6 M474.8 822.1 v6 M474.8 998.8 v-6 M601.2 822.1 v6 M601.2 998.8 v-6 M727.6 822.1 v6 M727.6 998.8 v-6 M854 822.1 v6 M854 998.8 v-6 M980.3 822.1 v6 M980.3 998.8 v-6 M83.3 998.8 h6 M980.5 998.8 h-6 M83.3 963.5 h6 M980.5 963.5 h-6 M83.3 928.1 h6 M980.5 928.1 h-6 M83.3 892.8 h6 M980.5 892.8 h-6 M83.3 857.4 h6 M980.5 857.4 h-6 M83.3 822.1 h6 M980.5 822.1 h-6" stroke="#000" stroke-width="1.5" fill="none"/>
<path d="M121 822.1 v3.5 M121 998.8 v-3.5 M146.3 822.1 v3.5 M146.3 998.8 v-3.5 M171.6 822.1 v3.5 M171.6 998.8 v-3.5 M196.8 822.1 v3.5 M196.8 998.8 v-3.5 M247.4 822.1 v3.5 M247.4 998.8 v-3.5 M272.7 822.1 v3.5 M272.7 998.8 v-3.5 M297.9 822.1 v3.5 M297.9 998.8 v-3.5 M323.2 822.1 v3.5 M323.2 998.8 v-3.5 M373.8 822.1 v3.5 M373.8 998.8 v-3.5 M399 822.1 v3.5 M399 998.8 v-3.5 M424.3 822.1 v3.5 M424.3 998.8 v-3.5 M449.6 822.1 v3.5 M449.6 998.8 v-3.5 M500.1 822.1 v3.5 M500.1 998.8 v-3.5 M525.4 822.1 v3.5 M525.4 998.8 v-3.5 M550.7 822.1 v3.5 M550.7 998.8 v-3.5 M575.9 822.1 v3.5 M575.9 998.8 v-3.5 M626.5 822.1 v3.5 M626.5 998.8 v-3.5 M651.8 822.1 v3.5 M651.8 998.8 v-3.5 M677 822.1 v3.5 M677 998.8 v-3.5 M702.3 822.1 v3.5 M702.3 998.8 v-3.5 M752.9 822.1 v3.5 M752.9 998.8 v-3.5 M778.1 822.1 v3.5 M778.1 998.8 v-3.5 M803.4 822.1 v3.5 M803.4 998.8 v-3.5 M828.7 822.1 v3.5 M828.7 998.8 v-3.5 M879.2 822.1 v3.5 M879.2 998.8 v-3.5 M904.5 822.1 v3.5 M904.5 998.8 v-3.5 M929.8 822.1 v3.5 M929.8 998.8 v-3.5 M955.1 822.1 v3.5 M955.1 998.8 v-3.5 M83.3 981.1 h3.5 M980.5 981.1 h-3.5 M83.3 945.8 h3.5 M980.5 945.8 h-3.5 M83.3 910.4 h3.5 M980.5 910.4 h-3.5 M83.3 875.1 h3.5 M980.5 875.1 h-3.5 M83.3 839.8 h3.5 M980.5 839.8 h-3.5" stroke="#000" stroke-width="1.2" fill="none"/>
<rect x="83.3" y="822.1" width="897.2" height="176.7" fill="none" stroke="#000" stroke-width="1.7"/>
<text x="77.7" y="1009.4" font-size="26.6" text-anchor="end">0.0</text>
<text x="77.7" y="974.1" font-size="26.6" text-anchor="end">0.2</text>
<text x="77.7" y="938.7" font-size="26.6" text-anchor="end">0.4</text>
<text x="77.7" y="903.4" font-size="26.6" text-anchor="end">0.6</text>
<text x="77.7" y="868" font-size="26.6" text-anchor="end">0.8</text>
<text x="77.7" y="832.7" font-size="26.6" text-anchor="end">1.0</text>
<text x="170.5" y="910.4" font-size="26.6" text-anchor="middle">U</text>
<text x="269.5" y="910.4" font-size="26.6" text-anchor="middle">B</text>
<text x="408.7" y="910.4" font-size="26.6" text-anchor="middle">V</text>
<text x="523.5" y="910.4" font-size="26.6" text-anchor="middle">R</text>
<text x="745.5" y="910.4" font-size="26.6" text-anchor="middle">I</text>
<text x="918.2" y="857.4" font-size="21.3" text-anchor="middle">Bessell</text>
</g>
<text x="96.5" y="1026.3" font-size="26.6" text-anchor="middle">3000</text>
<text x="222.9" y="1026.3" font-size="26.6" text-anchor="middle">4000</text>
<text x="349.3" y="1026.3" font-size="26.6" text-anchor="middle">5000</text>
<text x="475.6" y="1026.3" font-size="26.6" text-anchor="middle">6000</text>
<text x="602" y="1026.3" font-size="26.6" text-anchor="middle">7000</text>
<text x="728.4" y="1026.3" font-size="26.6" text-anchor="middle">8000</text>
<text x="854.8" y="1026.3" font-size="26.6" text-anchor="middle">9000</text>
<text x="981.1" y="1026.3" font-size="26.6" text-anchor="middle">10000</text>
<text x="499.6" y="1066.7" font-size="30" style="font-family:'Liberation Serif',serif" font-style="italic">λ</text>
<text x="522.7" y="1066.7" font-size="30" style="font-family:'Liberation Serif',serif">(Å)</text>
<text transform="translate(22.1 504.1) rotate(-90)" font-size="30.4" text-anchor="middle">Transmission</text>
</svg></body></html>
